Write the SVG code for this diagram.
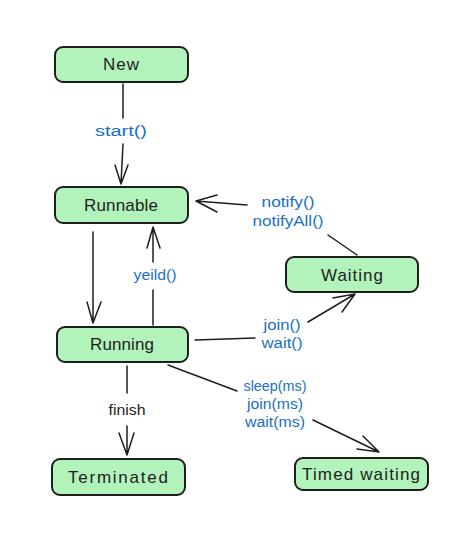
<svg xmlns="http://www.w3.org/2000/svg" width="474" height="541" viewBox="0 0 474 541">
<style>
.box{fill:#b2f2bb;stroke:#1e1e1e;stroke-width:2}
.nt{font-family:"Liberation Sans","DejaVu Sans",sans-serif;font-size:17px;fill:#1e1e1e;text-anchor:middle}
.lb{font-family:"Liberation Sans","DejaVu Sans",sans-serif;font-size:14px;fill:#1971c2;text-anchor:middle}
.lk{fill:#1e1e1e}
.ln{fill:none;stroke:#1e1e1e;stroke-width:1.5;stroke-linecap:round;stroke-linejoin:round}
</style>
<rect width="474" height="541" fill="#ffffff"/>
<g id="connectors">
  <g id="e-new-runnable">
    <path class="ln" d="M123 84 L123 118 M123 144 L121 184 M115 165 L121 184 L128 165"/>
    <text class="lb" x="121" y="136" textLength="52" lengthAdjust="spacingAndGlyphs">start()</text>
  </g>
  <g id="e-runnable-running">
    <path class="ln" d="M93 232 L93 323 M87 302 L93 323 L101 302"/>
  </g>
  <g id="e-running-runnable">
    <path class="ln" d="M153 325 L153 290 M153 262 L153 227 M147 248 L153 227 L160 248"/>
    <text class="lb" x="155" y="280" textLength="43" lengthAdjust="spacingAndGlyphs">yeild()</text>
  </g>
  <g id="e-waiting-runnable">
    <path class="ln" d="M357 255 L328 235 M247 205 L196 201 M217 195 L196 201 L217 212"/>
    <text class="lb" x="288" y="207" textLength="53" lengthAdjust="spacingAndGlyphs">notify()</text>
    <text class="lb" x="288" y="226" textLength="71" lengthAdjust="spacingAndGlyphs">notifyAll()</text>
  </g>
  <g id="e-running-waiting">
    <path class="ln" d="M195 340 L255 338 M308 322 L355 294 M333 298 L355 294 L342 312"/>
    <text class="lb" x="282" y="330" textLength="37" lengthAdjust="spacingAndGlyphs">join()</text>
    <text class="lb" x="282" y="348" textLength="41" lengthAdjust="spacingAndGlyphs">wait()</text>
  </g>
  <g id="e-running-terminated">
    <path class="ln" d="M127 366 L127 393 M127 426 L127 455 M119 433 L127 455 L134 433"/>
    <text class="lb lk" x="127" y="415" textLength="37" lengthAdjust="spacingAndGlyphs">finish</text>
  </g>
  <g id="e-running-timed">
    <path class="ln" d="M168 365 L237 391 M313 420 L379 452 M363 436 L379 452 L357 449"/>
    <text class="lb" x="275" y="391" textLength="63" lengthAdjust="spacingAndGlyphs">sleep(ms)</text>
    <text class="lb" x="275" y="409" textLength="56" lengthAdjust="spacingAndGlyphs">join(ms)</text>
    <text class="lb" x="275" y="427" textLength="60" lengthAdjust="spacingAndGlyphs">wait(ms)</text>
  </g>
</g>
<g id="n-new">
  <rect class="box" x="55" y="47" width="133" height="35" rx="8"/>
  <text class="nt" x="121" y="70" textLength="36" lengthAdjust="spacing">New</text>
</g>
<g id="n-runnable">
  <rect class="box" x="55" y="187" width="133" height="36" rx="8"/>
  <text class="nt" x="121" y="211" textLength="74" lengthAdjust="spacing">Runnable</text>
</g>
<g id="n-running">
  <rect class="box" x="57" y="327" width="131" height="35" rx="8"/>
  <text class="nt" x="122" y="350" textLength="64" lengthAdjust="spacing">Running</text>
</g>
<g id="n-waiting">
  <rect class="box" x="286" y="257" width="132" height="35" rx="8"/>
  <text class="nt" x="352" y="281" textLength="62" lengthAdjust="spacing">Waiting</text>
</g>
<g id="n-terminated">
  <rect class="box" x="52" y="459" width="133" height="36" rx="8"/>
  <text class="nt" x="118" y="483" textLength="100" lengthAdjust="spacing">Terminated</text>
</g>
<g id="n-timed">
  <rect class="box" x="295" y="458" width="133" height="32" rx="8"/>
  <text class="nt" x="361" y="480" textLength="118" lengthAdjust="spacing">Timed waiting</text>
</g>
</svg>
